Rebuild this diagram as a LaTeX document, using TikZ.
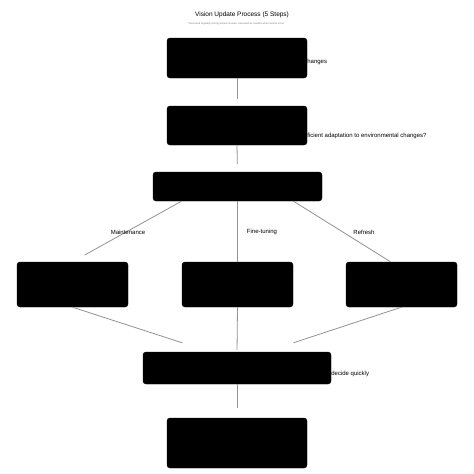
\documentclass[tikz,border=0pt]{standalone}
\usepackage{fontspec}
\setmainfont{Liberation Sans}
\begin{document}
\begin{tikzpicture}[x=1pt,y=-1pt,
  box/.style={draw=black,fill=black,rounded corners=3pt,inner sep=0pt,minimum width=#1},
  conn/.style={draw=gray!85,line width=0.8pt},
  lbl/.style={font=\fontsize{6}{7}\selectfont,inner sep=0pt},
  over/.style={font=\fontsize{6}{7}\selectfont,inner sep=0pt,anchor=west}]
\useasboundingbox[fill=white] (0,0) rectangle (474,474);
\node[font=\fontsize{6.5}{8}\selectfont] (title) at (242,15) {Vision Update Process (5 Steps)};
\node[font=\fontsize{2.6}{3}\selectfont,text=gray] (sub) at (236,24) {* Executed regularly during annual reviews; executed as needed when events occur};
\node[box=140pt,minimum height=40pt] (b1) at (237,58) {};
\node[box=140pt,minimum height=39pt] (b2) at (237,125.5) {};
\node[box=169pt,minimum height=29pt] (b3) at (237.5,186.5) {};
\node[box=111pt,minimum height=45pt] (b4) at (72.5,284.5) {};
\node[box=111pt,minimum height=45pt] (b5) at (237.5,284.5) {};
\node[box=111pt,minimum height=45pt] (b6) at (401.5,284.5) {};
\node[box=188pt,minimum height=32pt] (b7) at (237,368) {};
\node[box=140pt,minimum height=50pt] (b8) at (237,443) {};
\node[over] (t1) at (b1.east |- 0,62) {hanges};
\node[over] (t2) at (b2.east |- 0,136) {ficient adaptation to environmental changes?};
\node[over] (t7) at (b7.east |- 0,374) {decide quickly};
\draw[conn,shorten >=7pt] (b1.south) -- (b2.north);
\draw[conn,shorten >=8pt] (b2.south) -- (b3.north);
\draw[conn,shorten >=14pt] ([xshift=-56pt]b3.south) -- (b4.north);
\draw[conn] (b3.south) -- (b5.north);
\draw[conn] ([xshift=56pt]b3.south) -- ([xshift=-11pt]b6.north);
\draw[conn,shorten >=29pt] (b4.south) -- ([xshift=-27pt]b7.north);
\draw[conn,shorten >=2pt] (b5.south) -- (b7.north);
\draw[conn,shorten >=29pt] (b6.south) -- ([xshift=29pt]b7.north);
\draw[conn,shorten >=10pt] (b7.south) -- (b8.north);
\node[lbl] (l1) at (128,232) {Maintenance};
\node[lbl] (l2) at (262,232) {Fine-tuning};
\node[lbl] (l3) at (364,232) {Refresh};
\end{tikzpicture}
\end{document}
